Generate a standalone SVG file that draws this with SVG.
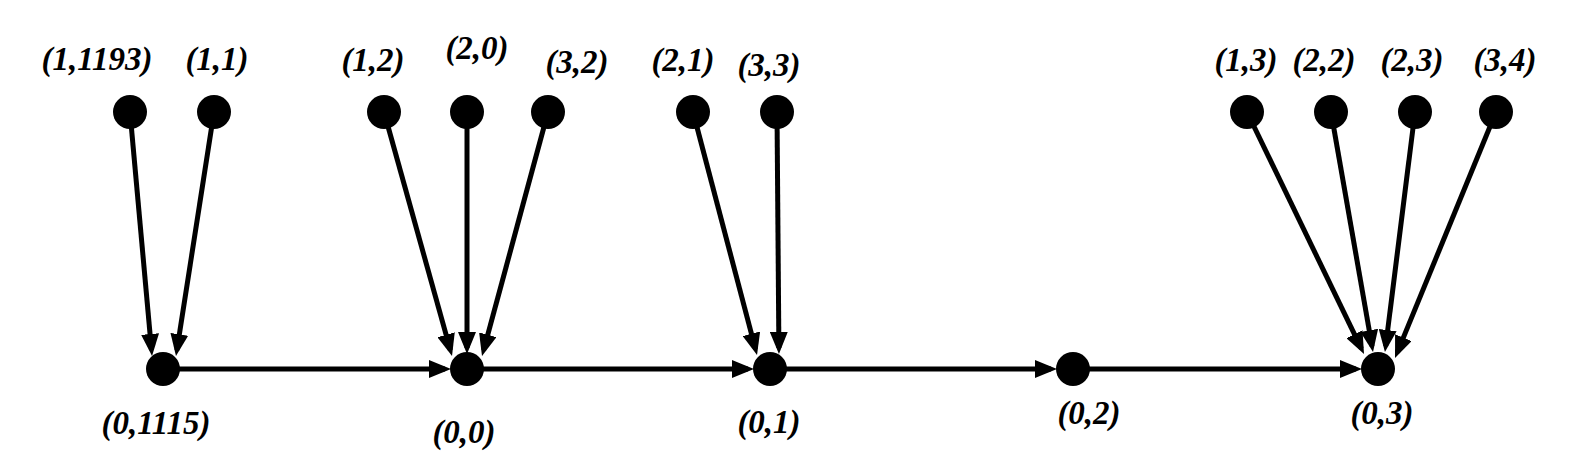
<svg xmlns="http://www.w3.org/2000/svg" width="1584" height="474" viewBox="0 0 1584 474">
<style>
.lbl{font-family:"Liberation Serif","Times New Roman",serif;font-weight:bold;font-style:italic;font-size:33px;fill:#000;text-anchor:middle}
.e{stroke:#000;stroke-width:5;fill:none;marker-end:url(#ah)}
.n{fill:#000}
</style>
<defs>
<marker id="ah" viewBox="0 0 22 18" markerWidth="22" markerHeight="18" refX="16" refY="9" markerUnits="userSpaceOnUse" orient="auto">
<path d="M0,0 L22,9 L0,18 z" fill="#000"/>
</marker>
</defs>
<rect width="1584" height="474" fill="#fff"/>
<g id="connectors">
<line class="e" x1="130" y1="112" x2="151.5" y2="350"/>
<line class="e" x1="214" y1="112" x2="176.9" y2="350.1"/>
<line class="e" x1="384" y1="112" x2="450.4" y2="350.2"/>
<line class="e" x1="467" y1="112" x2="467" y2="348"/>
<line class="e" x1="548" y1="112" x2="483.6" y2="350.2"/>
<line class="e" x1="693" y1="112" x2="755.5" y2="349.2"/>
<line class="e" x1="777" y1="112" x2="778.9" y2="348"/>
<line class="e" x1="1247" y1="112" x2="1361.4" y2="348.6"/>
<line class="e" x1="1331" y1="112" x2="1372" y2="346.1"/>
<line class="e" x1="1415" y1="112" x2="1385.7" y2="346"/>
<line class="e" x1="1496" y1="112" x2="1397.3" y2="352.4"/>
<line class="e" x1="163" y1="369" x2="445" y2="369"/>
<line class="e" x1="467" y1="369" x2="748" y2="369"/>
<line class="e" x1="770" y1="369" x2="1051" y2="369"/>
<line class="e" x1="1073" y1="369" x2="1356" y2="369"/>
</g>
<g id="n_1_1193"><circle class="n" cx="130" cy="112" r="17"/><text class="lbl" x="97" y="70">(1,1193)</text></g>
<g id="n_1_1"><circle class="n" cx="214" cy="112" r="17"/><text class="lbl" x="217" y="70">(1,1)</text></g>
<g id="n_1_2"><circle class="n" cx="384" cy="112" r="17"/><text class="lbl" x="373" y="71">(1,2)</text></g>
<g id="n_2_0"><circle class="n" cx="467" cy="112" r="17"/><text class="lbl" x="477" y="59">(2,0)</text></g>
<g id="n_3_2"><circle class="n" cx="548" cy="112" r="17"/><text class="lbl" x="577" y="73">(3,2)</text></g>
<g id="n_2_1"><circle class="n" cx="693" cy="112" r="17"/><text class="lbl" x="683" y="71">(2,1)</text></g>
<g id="n_3_3"><circle class="n" cx="777" cy="112" r="17"/><text class="lbl" x="769" y="76">(3,3)</text></g>
<g id="n_1_3"><circle class="n" cx="1247" cy="112" r="17"/><text class="lbl" x="1246" y="71">(1,3)</text></g>
<g id="n_2_2"><circle class="n" cx="1331" cy="112" r="17"/><text class="lbl" x="1324" y="71">(2,2)</text></g>
<g id="n_2_3"><circle class="n" cx="1415" cy="112" r="17"/><text class="lbl" x="1412" y="71">(2,3)</text></g>
<g id="n_3_4"><circle class="n" cx="1496" cy="112" r="17"/><text class="lbl" x="1505" y="71">(3,4)</text></g>
<g id="n_0_1115"><circle class="n" cx="163" cy="369" r="17"/><text class="lbl" x="156" y="434">(0,1115)</text></g>
<g id="n_0_0"><circle class="n" cx="467" cy="369" r="17"/><text class="lbl" x="464" y="443">(0,0)</text></g>
<g id="n_0_1"><circle class="n" cx="770" cy="369" r="17"/><text class="lbl" x="769" y="433">(0,1)</text></g>
<g id="n_0_2"><circle class="n" cx="1073" cy="369" r="17"/><text class="lbl" x="1089" y="424">(0,2)</text></g>
<g id="n_0_3"><circle class="n" cx="1378" cy="369" r="17"/><text class="lbl" x="1382" y="424">(0,3)</text></g>
</svg>
